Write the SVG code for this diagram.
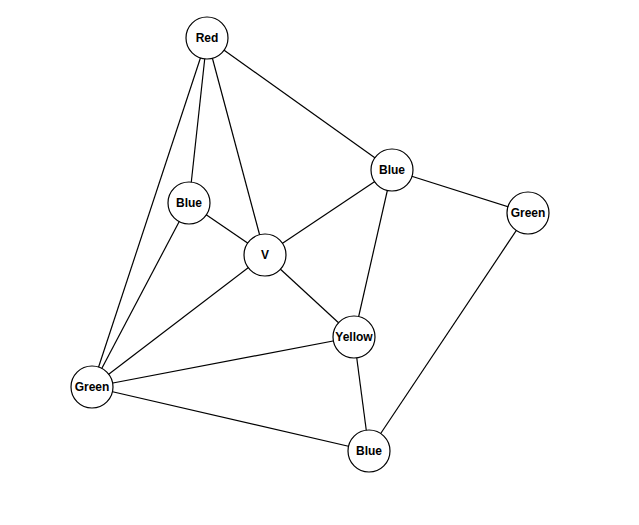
<svg xmlns="http://www.w3.org/2000/svg" width="639" height="525" viewBox="0 0 639 525">
<style>
line{stroke:#000;stroke-width:1.2}
circle{fill:#fff;stroke:#000;stroke-width:1.2}
text{font-family:"Liberation Sans",Arial,sans-serif;font-weight:bold;font-size:12px;text-anchor:middle;dominant-baseline:central}
</style>
<rect width="639" height="525" fill="#fff"/>
<g id="edges">
<line x1="207" y1="38" x2="392" y2="170"/>
<line x1="207" y1="38" x2="189" y2="203"/>
<line x1="207" y1="38" x2="265" y2="255"/>
<line x1="207" y1="38" x2="92" y2="387"/>
<line x1="189" y1="203" x2="265" y2="255"/>
<line x1="189" y1="203" x2="92" y2="387"/>
<line x1="265" y1="255" x2="392" y2="170"/>
<line x1="265" y1="255" x2="354" y2="337"/>
<line x1="265" y1="255" x2="92" y2="387"/>
<line x1="392" y1="170" x2="528" y2="213"/>
<line x1="392" y1="170" x2="354" y2="337"/>
<line x1="528" y1="213" x2="369" y2="451"/>
<line x1="354" y1="337" x2="92" y2="387"/>
<line x1="354" y1="337" x2="369" y2="451"/>
<line x1="92" y1="387" x2="369" y2="451"/>
</g>
<g id="n-red"><circle cx="207" cy="38" r="21"/><text x="207" y="38">Red</text></g>
<g id="n-blue1"><circle cx="189" cy="203" r="21"/><text x="189" y="203">Blue</text></g>
<g id="n-v"><circle cx="265" cy="255" r="21"/><text x="265" y="255">V</text></g>
<g id="n-blue2"><circle cx="392" cy="170" r="21"/><text x="392" y="170">Blue</text></g>
<g id="n-green1"><circle cx="528" cy="213" r="21"/><text x="528" y="213">Green</text></g>
<g id="n-yellow"><circle cx="354" cy="337" r="21"/><text x="354" y="337">Yellow</text></g>
<g id="n-green2"><circle cx="92" cy="387" r="21"/><text x="92" y="387">Green</text></g>
<g id="n-blue3"><circle cx="369" cy="451" r="21"/><text x="369" y="451">Blue</text></g>
</svg>
